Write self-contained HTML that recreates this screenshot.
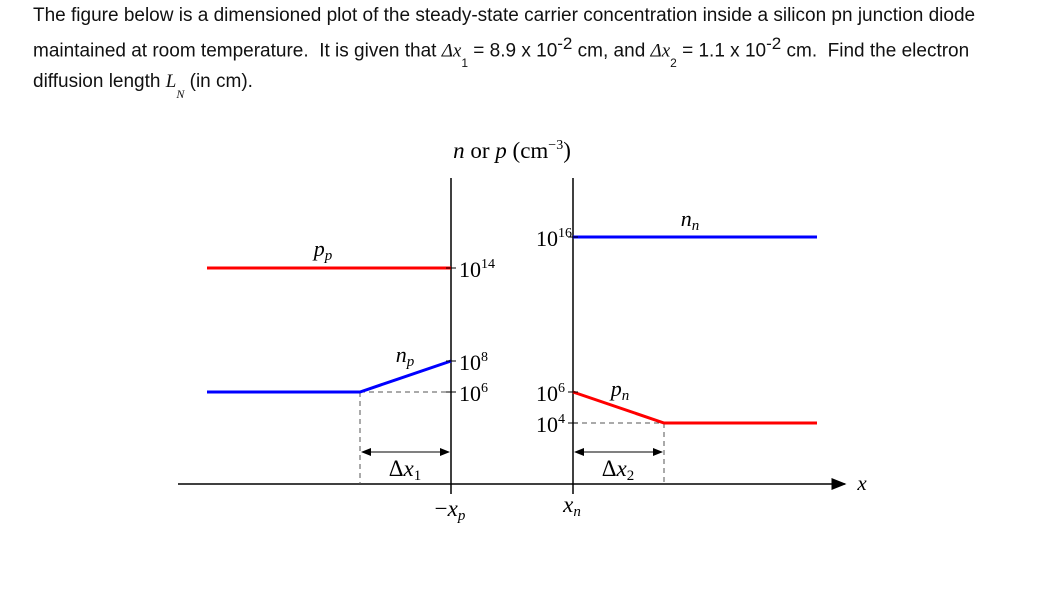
<!DOCTYPE html>
<html><head><meta charset="utf-8"><style>
body{margin:0;width:1040px;height:598px;background:#fff;overflow:hidden;font-family:"Liberation Sans",sans-serif}
.t{position:absolute;left:33px;font-size:19px;color:#111;white-space:nowrap;letter-spacing:0px}
.m{font-family:"Liberation Serif",serif;font-style:italic}
</style></head><body>
<div class="t" style="top:5px">The figure below is a dimensioned plot of the steady-state carrier concentration inside a silicon pn junction diode</div>
<div class="t" style="top:34px">maintained at room temperature.&nbsp; It is given that <span class="m">Δx</span><sub style="font-size:12px;position:relative;top:6px">1</sub> = 8.9 x 10<sup style="font-size:17px">-2</sup> cm, and <span class="m">Δx</span><sub style="font-size:12px;position:relative;top:6px">2</sub> = 1.1 x 10<sup style="font-size:17px">-2</sup> cm.&nbsp; Find the electron</div>
<div class="t" style="top:71px">diffusion length <span class="m">L</span><sub style="font-size:12px;position:relative;top:6px" class="m">N</sub> (in cm).</div>
<svg id="c" width="1040" height="598" style="position:absolute;left:0;top:0" font-family="Liberation Serif,serif">
<defs><marker id="ar" markerWidth="10" markerHeight="8" refX="9" refY="4" orient="auto"><path d="M0,0L10,4L0,8z" fill="#000"/></marker></defs>
</svg>
<script>
const levelNames=['pp','nn','np','pn'];
const levelExps=[14,16,6,4];
const npBoundaryExp=8, pnBoundaryExp=6;
const tickLeft=[14,8,6], tickRight=[16,6,4];
const xAxisPos={left:207,xp:451,x1:360,xn:573,x2:664,right:817};
function Y(e){return 268+15.5*(14-e);}
const s=document.getElementById('c');const NS='http://www.w3.org/2000/svg';
function el(t,a,name){const e=document.createElementNS(NS,t);for(const k in a)e.setAttribute(k,a[k]);


s.appendChild(e);return e;}
function tx(x,y,str,sup,name,size,anchor,italic){const e=el('text',{x:x,y:y,'font-size':size||20,'text-anchor':anchor||'start','font-style':italic?'italic':'normal'},name);e.textContent=str;if(sup){const t=document.createElementNS(NS,'tspan');t.setAttribute('dy','-9');t.setAttribute('font-size','14');t.textContent=sup;e.appendChild(t);}return e;}
const X=xAxisPos;
el('line',{x1:178,y1:484,x2:845,y2:484,stroke:'#000','stroke-width':1.5,'marker-end':'url(#ar)'},'x-axis');
el('line',{x1:X.xp,y1:178,x2:X.xp,y2:494,stroke:'#000','stroke-width':1.5},'left-axis');
el('line',{x1:X.xn,y1:178,x2:X.xn,y2:494,stroke:'#000','stroke-width':1.5},'right-axis');
const d={stroke:'#555','stroke-width':1,'stroke-dasharray':'5,4'};
el('line',Object.assign({x1:X.x1,y1:Y(levelExps[2]),x2:X.xp,y2:Y(levelExps[2])},d),'dash-np');
el('line',Object.assign({x1:X.x1,y1:Y(levelExps[2]),x2:X.x1,y2:484},d),'dash-x1');
el('line',Object.assign({x1:X.xn,y1:Y(levelExps[3]),x2:X.x2,y2:Y(levelExps[3])},d),'dash-pn');
el('line',Object.assign({x1:X.x2,y1:Y(levelExps[3]),x2:X.x2,y2:484},d),'dash-x2');
el('line',{x1:X.left,y1:Y(levelExps[0]),x2:X.xp,y2:Y(levelExps[0]),stroke:'#f00','stroke-width':3},'pp-line');
el('line',{x1:X.xn,y1:Y(levelExps[1]),x2:X.right,y2:Y(levelExps[1]),stroke:'#00f','stroke-width':3},'nn-line');
el('polyline',{points:`${X.left},${Y(levelExps[2])} ${X.x1},${Y(levelExps[2])} ${X.xp},${Y(npBoundaryExp)}`,fill:'none',stroke:'#00f','stroke-width':3},'np-line');
el('polyline',{points:`${X.xn},${Y(pnBoundaryExp)} ${X.x2},${Y(levelExps[3])} ${X.right},${Y(levelExps[3])}`,fill:'none',stroke:'#f00','stroke-width':3},'pn-line');
tickLeft.forEach(e=>{el('line',{x1:X.xp-5,y1:Y(e),x2:X.xp+5,y2:Y(e),stroke:'#000'},'tick-left');tx(X.xp+8,Y(e)+9,'10',String(e),'tick-label-left',22);});
tickRight.forEach(e=>{el('line',{x1:X.xn-5,y1:Y(e),x2:X.xn+5,y2:Y(e),stroke:'#000'},'tick-right');tx(X.xn-37,Y(e)+9,'10',String(e),'tick-label-right',22);});
const m2=el('marker',{id:'al',markerWidth:10,markerHeight:8,refX:1,refY:4,orient:'auto'},'arrow-left');m2.innerHTML='<path d="M10,0L0,4L10,8z" fill="#000"/>';s.querySelector('defs').appendChild(m2);
el('line',{x1:X.x1+2,y1:452,x2:X.xp-2,y2:452,stroke:'#000','marker-end':'url(#ar)','marker-start':'url(#al)'},'dx1-arrow');
el('line',{x1:X.xn+2,y1:452,x2:X.x2-2,y2:452,stroke:'#000','marker-end':'url(#ar)','marker-start':'url(#al)'},'dx2-arrow');
tx(405,476,'','', 'dx1-label',23,'middle');s.lastChild.innerHTML='Δ<tspan font-style="italic">x</tspan><tspan font-size="15" dy="4">1</tspan>';
tx(618,476,'','', 'dx2-label',23,'middle');s.lastChild.innerHTML='Δ<tspan font-style="italic">x</tspan><tspan font-size="15" dy="4">2</tspan>';
tx(450,516,'','', 'xp-label',23,'middle');s.lastChild.innerHTML='−<tspan font-style="italic">x</tspan><tspan font-size="15" dy="4" font-style="italic">p</tspan>';
tx(572,512,'','', 'xn-label',23,'middle');s.lastChild.innerHTML='<tspan font-style="italic">x</tspan><tspan font-size="15" dy="4" font-style="italic">n</tspan>';
tx(862,490,'x','', 'x-axis-label',21,'middle',true);
tx(323,256,'','', 'pp-label',22,'middle');s.lastChild.innerHTML='<tspan font-style="italic">p</tspan><tspan font-size="15" dy="4" font-style="italic">p</tspan>';
tx(690,226,'','', 'nn-label',22,'middle');s.lastChild.innerHTML='<tspan font-style="italic">n</tspan><tspan font-size="15" dy="4" font-style="italic">n</tspan>';
tx(405,362,'','', 'np-label',22,'middle');s.lastChild.innerHTML='<tspan font-style="italic">n</tspan><tspan font-size="15" dy="4" font-style="italic">p</tspan>';
tx(620,396,'','', 'pn-label',22,'middle');s.lastChild.innerHTML='<tspan font-style="italic">p</tspan><tspan font-size="15" dy="4" font-style="italic">n</tspan>';
tx(512,158,'','', 'y-axis-title',23,'middle');s.lastChild.innerHTML='<tspan font-style="italic">n</tspan> or <tspan font-style="italic">p</tspan> (cm<tspan font-size="14" dy="-9">−3</tspan><tspan dy="9">)</tspan>';
</script>
</body></html>
